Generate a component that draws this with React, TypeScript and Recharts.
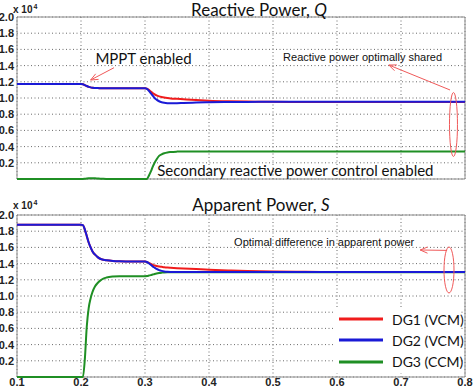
import React from 'react';
import { LineChart, Line, XAxis, YAxis, CartesianGrid, ReferenceLine, ReferenceDot, ReferenceArea } from 'recharts';

const time = [0.1, 0.2, 0.203, 0.206, 0.209, 0.212, 0.215, 0.218, 0.222, 0.226, 0.23, 0.235, 0.24, 0.25, 0.26, 0.28, 0.3, 0.303, 0.306, 0.309, 0.312, 0.315, 0.318, 0.322, 0.326, 0.33, 0.335, 0.34, 0.35, 0.36, 0.38, 0.4, 0.43, 0.46, 0.5, 0.55, 0.6, 0.65, 0.7, 0.75, 0.8];

// Reactive power Q (x 10^4)
const dg1Q = [1.172, 1.172, 1.17, 1.16, 1.148, 1.138, 1.131, 1.127, 1.124, 1.122, 1.121, 1.12, 1.12, 1.12, 1.12, 1.12, 1.12, 1.115, 1.1, 1.08, 1.06, 1.045, 1.032, 1.02, 1.012, 1.006, 1.0, 0.995, 0.99, 0.985, 0.975, 0.967, 0.96, 0.956, 0.953, 0.951, 0.95, 0.95, 0.95, 0.95, 0.95];
const dg2Q = [1.172, 1.172, 1.17, 1.16, 1.148, 1.138, 1.131, 1.127, 1.124, 1.122, 1.121, 1.12, 1.12, 1.12, 1.12, 1.12, 1.12, 1.112, 1.09, 1.06, 1.03, 1.0, 0.98, 0.96, 0.948, 0.941, 0.936, 0.934, 0.935, 0.938, 0.943, 0.947, 0.95, 0.952, 0.953, 0.953, 0.953, 0.953, 0.953, 0.953, 0.953];
const dg3Q = [0, 0, 0, 0.003, 0.006, 0.008, 0.009, 0.009, 0.008, 0.006, 0.004, 0.002, 0.001, 0, 0, 0, 0, 0, 0.04, 0.09, 0.15, 0.2, 0.24, 0.285, 0.305, 0.318, 0.328, 0.333, 0.338, 0.34, 0.34, 0.34, 0.34, 0.34, 0.34, 0.34, 0.34, 0.34, 0.34, 0.34, 0.34];

// Apparent power S (x 10^4)
const dg1S = [1.88, 1.88, 1.875, 1.82, 1.74, 1.66, 1.6, 1.55, 1.51, 1.48, 1.46, 1.447, 1.44, 1.432, 1.428, 1.425, 1.425, 1.42, 1.41, 1.395, 1.385, 1.377, 1.37, 1.364, 1.36, 1.356, 1.352, 1.349, 1.344, 1.34, 1.332, 1.325, 1.316, 1.308, 1.302, 1.298, 1.297, 1.297, 1.297, 1.297, 1.297];
const dg2S = [1.88, 1.88, 1.875, 1.82, 1.74, 1.66, 1.6, 1.55, 1.51, 1.48, 1.46, 1.447, 1.44, 1.432, 1.428, 1.425, 1.425, 1.42, 1.405, 1.385, 1.365, 1.35, 1.335, 1.32, 1.31, 1.303, 1.298, 1.296, 1.295, 1.295, 1.295, 1.295, 1.295, 1.295, 1.295, 1.295, 1.295, 1.295, 1.295, 1.295, 1.295];
const dg3S = [0, 0, 0, 0.22, 0.62, 0.85, 0.97, 1.05, 1.12, 1.16, 1.19, 1.215, 1.228, 1.24, 1.244, 1.245, 1.245, 1.247, 1.252, 1.258, 1.265, 1.272, 1.278, 1.284, 1.288, 1.291, 1.292, 1.292, 1.292, 1.292, 1.292, 1.292, 1.292, 1.292, 1.292, 1.292, 1.292, 1.292, 1.292, 1.292, 1.292];

const seriesNames = ['DG1 (VCM)', 'DG2 (VCM)', 'DG3 (CCM)'];
const seriesColors = ['#f01c1c', '#1a1ad6', '#1f8f24'];
const xTicks = [0.1, 0.2, 0.3, 0.4, 0.5, 0.6, 0.7, 0.8];
const yTicks = [0, 0.2, 0.4, 0.6, 0.8, 1.0, 1.2, 1.4, 1.6, 1.8, 2.0];

const qData = time.map((t, i) => ({ t, dg1: dg1Q[i], dg2: dg2Q[i], dg3: dg3Q[i] }));
const sData = time.map((t, i) => ({ t, dg1: dg1S[i], dg2: dg2S[i], dg3: dg3S[i] }));

const annColor = '#f05a5a';
const LATO = 'Lato, sans-serif';
const ARIAL = 'Liberation Sans, Arial, sans-serif';
const tickStyle = { fontSize: 11, fontWeight: 700, fill: '#222', fontFamily: ARIAL };

const arrowShape = (p: any) => {
  const { x1, y1, x2, y2 } = p;
  const ang = Math.atan2(y2 - y1, x2 - x1);
  const L = 8, w = 0.4;
  const ax = x2 - L * Math.cos(ang - w), ay = y2 - L * Math.sin(ang - w);
  const bx = x2 - L * Math.cos(ang + w), by = y2 - L * Math.sin(ang + w);
  return (
    <g>
      <line x1={x1} y1={y1} x2={x2} y2={y2} stroke={annColor} strokeWidth={1} />
      <polyline points={`${ax},${ay} ${x2},${y2} ${bx},${by}`} fill="none" stroke={annColor} strokeWidth={1} />
    </g>
  );
};

const ellipseShape = (rx: number, ry: number) => (p: any) => (
  <ellipse cx={p.cx} cy={p.cy} rx={rx} ry={ry} fill="none" stroke={annColor} strokeWidth={1} />
);

const textShape = (txt: string, size: number, family: string) => (p: any) => (
  <text x={p.cx} y={p.cy} textAnchor="middle" dominantBaseline="central" fontSize={size} fontFamily={family} fill="#111">{txt}</text>
);

function renderSeries() {
  const order = [2, 0, 1];
  return order.map((k) => (
    <Line key={k} dataKey={`dg${k + 1}`} type="monotone" stroke={seriesColors[k]} strokeWidth={2} dot={false} isAnimationActive={false} />
  ));
}

function commonAxes(showX: boolean) {
  return [
    <CartesianGrid key="g" strokeDasharray="1 2.5" stroke="#6a6a6a" />,
    <XAxis key="x" dataKey="t" type="number" domain={[0.1, 0.8]} ticks={xTicks} hide={!showX} height={14}
      tickFormatter={(v: number) => v.toFixed(1)} tick={tickStyle} tickLine={false} axisLine={false} tickSize={0} tickMargin={1} interval={0} />,
    <YAxis key="y" type="number" domain={[0, 2]} ticks={yTicks} width={16} interval={0}
      tickFormatter={(v: number) => (v === 0 ? '' : v.toFixed(1))} tick={tickStyle} tickLine={false} axisLine={false} tickSize={0} tickMargin={3} />,
    <ReferenceArea key="b" x1={0.1} x2={0.8} y1={0} y2={2} fill="none" stroke="#8c8c8c" strokeWidth={1} fillOpacity={0} />,
  ];
}

function Legend() {
  return (
    <div style={{ position: 'absolute', left: 334, top: 307, width: 126, height: 66, background: '#fff' }}>
      {seriesNames.map((n, i) => (
        <div key={n} style={{ position: 'absolute', left: 0, top: 2 + i * 21.3, height: 20, display: 'flex', alignItems: 'center' }}>
          <svg width={54} height={20}><line x1={5} y1={10} x2={49} y2={10} stroke={seriesColors[i]} strokeWidth={3} /></svg>
          <span style={{ fontFamily: LATO, fontSize: 14, color: '#111', marginLeft: 4, whiteSpace: 'nowrap' }}>{n}</span>
        </div>
      ))}
    </div>
  );
}

function Exp({ top }: { top: number }) {
  return (
    <div style={{ position: 'absolute', left: 13, top, fontFamily: ARIAL, fontSize: 10, fontWeight: 700, color: '#222', whiteSpace: 'nowrap', lineHeight: '12px' }}>
      x 10<span style={{ fontSize: 7, position: 'relative', top: -4, marginLeft: 1 }}>4</span>
    </div>
  );
}

function Title({ top, center, main, sym }: { top: number; center: number; main: string; sym: string }) {
  return (
    <div style={{ position: 'absolute', top, left: center, transform: 'translateX(-50%)', fontFamily: LATO, fontSize: 17, color: '#111', whiteSpace: 'nowrap', lineHeight: '18px' }}>
      {main}<i>{sym}</i>
    </div>
  );
}

export default function App() {
  return (
    <div style={{ position: 'absolute', left: 0, top: 0, width: 474, height: 391, background: '#fff', overflow: 'hidden' }}>
      <div style={{ position: 'absolute', left: 0, top: 0 }}>
        <LineChart width={474} height={181} data={qData} margin={{ top: 17, right: 9, left: 1, bottom: 2 }}>
          {commonAxes(false)}
          {renderSeries()}
          <ReferenceLine segment={[{ x: 0.2516, y: 1.374 }, { x: 0.215, y: 1.222 }]} shape={arrowShape} />
          <ReferenceLine segment={[{ x: 0.7766, y: 1.099 }, { x: 0.681, y: 1.407 }]} shape={arrowShape} />
          <ReferenceDot x={0.782} y={0.673} shape={ellipseShape(4, 32)} />
          <ReferenceDot x={0.2977} y={1.494} shape={textShape('MPPT enabled', 15, LATO)} />
          <ReferenceDot x={0.64} y={1.506} shape={textShape('Reactive power optimally shared', 11, ARIAL)} />
          <ReferenceDot x={0.535} y={0.111} shape={textShape('Secondary reactive power control enabled', 15, LATO)} />
        </LineChart>
      </div>
      <div style={{ position: 'absolute', left: 0, top: 196 }}>
        <LineChart width={474} height={195} data={sData} margin={{ top: 19, right: 9, left: 1, bottom: 0 }}>
          {commonAxes(true)}
          {renderSeries()}
          <ReferenceLine segment={[{ x: 0.772, y: 1.563 }, { x: 0.73, y: 1.568 }]} shape={arrowShape} />
          <ReferenceDot x={0.775} y={1.321} shape={ellipseShape(5, 23)} />
          <ReferenceDot x={0.58} y={1.667} shape={textShape('Optimal difference in apparent power', 11, ARIAL)} />
        </LineChart>
      </div>
      <Title top={1} center={259} main="Reactive Power, " sym="Q" />
      <Title top={196} center={261} main="Apparent Power, " sym="S" />
      <Exp top={4} />
      <Exp top={200} />
      <Legend />
    </div>
  );
}
